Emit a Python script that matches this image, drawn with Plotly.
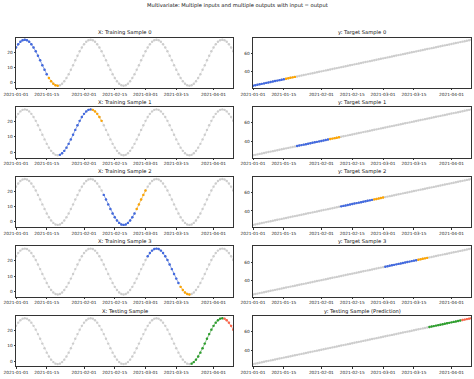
import plotly.graph_objects as go
import pandas as pd

# ---------------- data ----------------
start_date = "2021-01-01"
n_days = 100
dates = pd.date_range(start_date, periods=n_days, freq="D")

x_values = [
    23.0, 25.1, 26.7, 27.7, 28.0, 27.7, 26.7, 25.1, 23.0, 20.5,
    17.6, 14.6, 11.4, 8.4, 5.5, 3.0, 0.9, -0.7, -1.7, -2.0,
    -1.7, -0.7, 0.9, 3.0, 5.5, 8.4, 11.4, 14.6, 17.6, 20.5,
    23.0, 25.1, 26.7, 27.7, 28.0, 27.7, 26.7, 25.1, 23.0, 20.5,
    17.6, 14.6, 11.4, 8.4, 5.5, 3.0, 0.9, -0.7, -1.7, -2.0,
    -1.7, -0.7, 0.9, 3.0, 5.5, 8.4, 11.4, 14.6, 17.6, 20.5,
    23.0, 25.1, 26.7, 27.7, 28.0, 27.7, 26.7, 25.1, 23.0, 20.5,
    17.6, 14.6, 11.4, 8.4, 5.5, 3.0, 0.9, -0.7, -1.7, -2.0,
    -1.7, -0.7, 0.9, 3.0, 5.5, 8.4, 11.4, 14.6, 17.6, 20.5,
    23.0, 25.1, 26.7, 27.7, 28.0, 27.7, 26.7, 25.1, 23.0, 20.5,
]

y_values = [
    25.0, 25.5, 26.0, 26.5, 27.0, 27.5, 28.0, 28.5, 29.0, 29.5,
    30.0, 30.5, 31.0, 31.5, 32.0, 32.5, 33.0, 33.5, 34.0, 34.5,
    35.0, 35.5, 36.0, 36.5, 37.0, 37.5, 38.0, 38.5, 39.0, 39.5,
    40.0, 40.5, 41.0, 41.5, 42.0, 42.5, 43.0, 43.5, 44.0, 44.5,
    45.0, 45.5, 46.0, 46.5, 47.0, 47.5, 48.0, 48.5, 49.0, 49.5,
    50.0, 50.5, 51.0, 51.5, 52.0, 52.5, 53.0, 53.5, 54.0, 54.5,
    55.0, 55.5, 56.0, 56.5, 57.0, 57.5, 58.0, 58.5, 59.0, 59.5,
    60.0, 60.5, 61.0, 61.5, 62.0, 62.5, 63.0, 63.5, 64.0, 64.5,
    65.0, 65.5, 66.0, 66.5, 67.0, 67.5, 68.0, 68.5, 69.0, 69.5,
    70.0, 70.5, 71.0, 71.5, 72.0, 72.5, 73.0, 73.5, 74.0, 74.5,
]

window_starts = [0, 20, 40, 60, 80]
n_input = 15
n_output = 5

x_titles = ["X: Training Sample 0", "X: Training Sample 1", "X: Training Sample 2",
            "X: Training Sample 3", "X: Testing Sample"]
y_titles = ["y: Target Sample 0", "y: Target Sample 1", "y: Target Sample 2",
            "y: Target Sample 3", "y: Testing Sample (Prediction)"]
main_title = "Multivariate: Multiple inputs and multiple outputs with input = output"

xtick_labels = ["2021-01-01", "2021-01-15", "2021-02-01", "2021-02-15",
                "2021-03-01", "2021-03-15", "2021-04-01"]
x_panel_yticks = [0, 10, 20]
y_panel_yticks = [40, 60]

# ---------------- style ----------------
W, H = 474, 379
GRAY = "#cdcdcd"
IN_TRAIN, OUT_TRAIN = "#4169e1", "#ffa500"
IN_TEST, OUT_TEST = "#2ca02c", "#ff6347"
FONT = "DejaVu Sans"
TICK_SIZE = 4.3
TITLE_SIZE = 5.2

col_px = [(16.0, 233.3), (253.0, 471.3)]
row_tops = [37.5, 107.1, 176.7, 246.3, 315.9]
row_h = 50.5

fig = go.Figure()
layout = dict(
    width=W, height=H,
    margin=dict(l=0, r=0, t=0, b=0, pad=0, autoexpand=False),
    paper_bgcolor="white", plot_bgcolor="white",
    showlegend=False,
    font=dict(family=FONT, color="#222"),
)
annotations = []


def px_x(p):
    return p / W


def px_y(p):
    return 1 - p / H


def add_series(idx, values, start, test):
    xa = "x" if idx == 1 else f"x{idx}"
    ya = "y" if idx == 1 else f"y{idx}"
    c_in, c_out = (IN_TEST, OUT_TEST) if test else (IN_TRAIN, OUT_TRAIN)
    fig.add_trace(go.Scatter(x=dates, y=values, mode="lines+markers",
                             line=dict(color=GRAY, width=0.4),
                             marker=dict(color=GRAY, size=2.4),
                             xaxis=xa, yaxis=ya))
    s_in = slice(start, start + n_input)
    s_out = slice(start + n_input, start + n_input + n_output)
    for sl, col in ((s_in, c_in), (s_out, c_out)):
        fig.add_trace(go.Scatter(x=dates[sl], y=values[sl], mode="lines+markers",
                                 line=dict(color=col, width=0.5),
                                 marker=dict(color=col, size=2.4),
                                 xaxis=xa, yaxis=ya))


for r in range(5):
    top = row_tops[r]
    bot = top + row_h
    ydom = [px_y(bot), px_y(top)]
    for c in range(2):
        idx = r * 2 + c + 1
        xdom = [px_x(col_px[c][0]), px_x(col_px[c][1])]
        vals = x_values if c == 0 else y_values
        add_series(idx, vals, window_starts[r], r == 4)
        ymin, ymax = min(vals), max(vals)
        pad = 0.05 * (ymax - ymin)
        ax_common = dict(showline=True, mirror=True, linecolor="#333", linewidth=0.6,
                         ticks="outside", ticklen=1.6, tickwidth=0.5, tickcolor="#333",
                         showgrid=False, zeroline=False, automargin=False,
                         tickfont=dict(size=TICK_SIZE, family=FONT, color="#222"))
        layout["xaxis" if idx == 1 else f"xaxis{idx}"] = dict(
            domain=xdom, anchor="y" if idx == 1 else f"y{idx}",
            range=[dates[0], dates[-1]],
            tickvals=xtick_labels, ticktext=xtick_labels, **ax_common)
        layout["yaxis" if idx == 1 else f"yaxis{idx}"] = dict(
            domain=ydom, anchor="x" if idx == 1 else f"x{idx}",
            range=[ymin - pad, ymax + pad],
            tickvals=x_panel_yticks if c == 0 else y_panel_yticks, **ax_common)
        title = x_titles[r] if c == 0 else y_titles[r]
        annotations.append(dict(text=title, x=(xdom[0] + xdom[1]) / 2, y=px_y(top - 4.8),
                                xref="paper", yref="paper", showarrow=False,
                                xanchor="center", yanchor="middle",
                                font=dict(size=TITLE_SIZE, family=FONT, color="#111")))

annotations.append(dict(text=main_title, x=0.5, y=px_y(5.5), xref="paper",
                        yref="paper", showarrow=False, xanchor="center", yanchor="middle",
                        font=dict(size=TITLE_SIZE, family=FONT, color="#111")))
layout["annotations"] = annotations
fig.update_layout(**layout)

# remove the browser's default page margin so the figure sits at the page origin
page_fix = "document.body.style.margin='0';document.body.style.overflow='hidden';"
fig.write_html("out.html", post_script=page_fix, config={"displayModeBar": False})
